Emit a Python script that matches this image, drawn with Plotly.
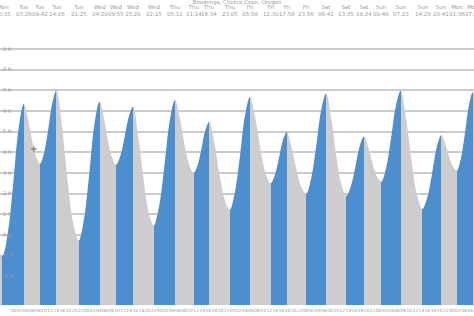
import plotly.graph_objects as go

# ---- data (hours since Tue 00:00, feet) ----
ext_t = [-3.63, 3.37, 8.69, 14.11, 21.40, 28.24, 33.66, 39.24, 46.04, 53.04,
         59.18, 64.28, 71.01, 77.68, 84.48, 89.74, 96.08, 102.71, 109.28, 115.13,
         120.78, 127.19, 134.35, 140.56, 145.58, 150.94]
ext_h = [-1.00, 6.34, 3.45, 7.00, -0.28, 6.45, 3.40, 6.20, 0.45, 6.53,
         3.00, 5.48, 1.21, 6.69, 2.50, 4.97, 1.98, 6.85, 1.89, 4.76,
         2.58, 6.98, 1.26, 4.84, 3.10, 6.90]
ext_kind = ["L", "H", "L", "H", "L", "H", "L", "H", "L", "H", "L", "H", "L",
            "H", "L", "H", "L", "H", "L", "H", "L", "H", "L", "H", "L", "H"]
ext_day = ["Mon", "Tue", "Tue", "Tue", "Tue", "Wed", "Wed", "Wed", "Wed", "Thu",
           "Thu", "Thu", "Thu", "Fri", "Fri", "Fri", "Fri", "Sat", "Sat", "Sat",
           "Sun", "Sun", "Sun", "Sun", "Mon", "Mon"]
ext_time = ["20:35", "03:26", "09:42", "14:16", "21:25", "04:20", "09:55", "15:20",
            "22:15", "05:11", "11:14", "16:34", "23:05", "05:58", "12:30", "17:58",
            "23:56", "06:41", "13:35", "19:24", "00:48", "07:23", "14:29", "20:41",
            "01:36", "07:30"]

curve_t = [-4.70, -3.63,
           -1.88, -0.13, 1.62, 3.37,
           4.70, 6.03, 7.36, 8.69,
           10.05, 11.40, 12.76, 14.11,
           15.93, 17.76, 19.58, 21.40,
           23.11, 24.82, 26.53, 28.24,
           29.60, 30.95, 32.31, 33.66,
           35.06, 36.45, 37.85, 39.24,
           40.94, 42.64, 44.34, 46.04,
           47.79, 49.54, 51.29, 53.04,
           54.58, 56.11, 57.65, 59.18,
           60.46, 61.73, 63.01, 64.28,
           65.96, 67.65, 69.33, 71.01,
           72.68, 74.35, 76.01, 77.68,
           79.38, 81.08, 82.78, 84.48,
           85.80, 87.11, 88.43, 89.74,
           91.33, 92.91, 94.50, 96.08,
           97.74, 99.40, 101.05, 102.71,
           104.35, 106.00, 107.64, 109.28,
           110.74, 112.21, 113.67, 115.13,
           116.54, 117.96, 119.37, 120.78,
           122.38, 123.99, 125.59, 127.19,
           128.98, 130.77, 132.56, 134.35,
           135.90, 137.46, 139.01, 140.56,
           141.82, 143.07, 144.33, 145.58,
           146.92, 148.26, 149.60, 150.94,
           152.50]
curve_h = [-0.88, -1.00,
           0.10, 2.45, 5.09, 6.34,
           5.65, 4.61, 3.80, 3.45,
           3.98, 5.12, 6.40, 7.00,
           5.25, 2.63, 0.59, -0.28,
           0.73, 2.88, 5.31, 6.45,
           5.72, 4.62, 3.77, 3.40,
           3.82, 4.72, 5.72, 6.20,
           4.82, 2.75, 1.14, 0.45,
           1.36, 3.31, 5.50, 6.53,
           5.68, 4.41, 3.42, 3.00,
           3.37, 4.17, 5.06, 5.48,
           4.46, 2.92, 1.72, 1.21,
           2.03, 3.79, 5.76, 6.69,
           5.68, 4.18, 3.00, 2.50,
           2.87, 3.66, 4.55, 4.97,
           4.25, 3.18, 2.34, 1.98,
           2.71, 4.27, 6.02, 6.85,
           5.66, 3.87, 2.49, 1.89,
           2.32, 3.24, 4.27, 4.76,
           4.24, 3.45, 2.84, 2.58,
           3.24, 4.65, 6.23, 6.98,
           5.61, 3.55, 1.95, 1.26,
           1.80, 2.94, 4.23, 4.84,
           4.42, 3.80, 3.31, 3.10,
           3.67, 4.89, 6.25, 6.90,
           6.60]

now_t = [6.72]
now_h = [4.16]

y_ticks = [-2, -1, 0, 1, 2, 3, 4, 5, 6, 7, 8, 9]
y_labels = [f"{v} ft" for v in y_ticks]
hour_ticks = list(range(-4, 152, 2))
hour_labels = [f"{h % 24:02d}" for h in hour_ticks]

TITLE = "Brookings, Chetco Cove, Oregon"

# ---- style ----
BLUE = "#4b8fcf"
GREY = "#cdcdcd"
TXT = "#9a9a9a"
FONT = "DejaVu Sans"
X_RANGE = [-4.45, 151.27]
Y_RANGE = [-3.39, 10.40]
BASE = -6

start, stop = curve_t[0], curve_t[-1]
span = stop - start
cscale = [[0.0, GREY]]
for t, k in zip(ext_t, ext_kind):
    p = (t - start) / span
    if k == "L":
        cscale += [[p, GREY], [p, BLUE]]
    else:
        cscale += [[p, BLUE], [p, GREY]]
cscale.append([1.0, GREY])

fig = go.Figure()
fig.add_trace(go.Scatter(x=[start, stop], y=[BASE, BASE], mode="lines",
                         line=dict(width=0), hoverinfo="skip", showlegend=False))
fig.add_trace(go.Scatter(
    x=curve_t, y=curve_h, mode="lines", line=dict(width=0, shape="spline", smoothing=1.0),
    fill="tonexty",
    fillgradient=dict(type="horizontal", colorscale=cscale, start=start, stop=stop),
    hoverinfo="skip", showlegend=False))
fig.add_trace(go.Scatter(x=now_t, y=now_h, mode="markers",
                         marker=dict(symbol="cross-thin", size=4,
                                     line=dict(width=1, color="#666")),
                         hoverinfo="skip", showlegend=False))

# top labels: high / low times placed at each extreme's x position
for t, d, tm in zip(ext_t, ext_day, ext_time):
    fig.add_annotation(x=t, xref="x", y=1, yref="paper", yanchor="bottom",
                       xanchor="center", yshift=1, showarrow=False,
                       text=f"{d}<br>{tm}",
                       font=dict(size=5.5, color=TXT, family=FONT))

fig.update_layout(
    width=474, height=316,
    margin=dict(l=0, r=0, t=20, b=11, pad=0, autoexpand=False),
    paper_bgcolor="white", plot_bgcolor="white",
    font=dict(family=FONT, size=5, color=TXT),
    title=dict(text=TITLE, x=0.5, xanchor="center", y=1.0, yanchor="top",
               yref="container", font=dict(size=5.5, color=TXT, family=FONT),
               pad=dict(t=0, b=0)),
    xaxis=dict(range=X_RANGE, showgrid=False, zeroline=False, showline=False,
               tickmode="array", tickvals=hour_ticks, ticktext=hour_labels,
               tickangle=0, ticks="", tickfont=dict(size=4.5, color=TXT),
               ticklabelstandoff=1, ticklabeloverflow="allow", automargin=False),
    yaxis=dict(range=Y_RANGE, tickmode="array", tickvals=y_ticks, ticktext=y_labels,
               ticklabelposition="inside", showgrid=True, gridcolor="#cbcbcb",
               gridwidth=1.5, zeroline=False, showline=False, ticks="",
               tickfont=dict(size=5, color=TXT), automargin=False),
)

fig.write_html("out.html")
